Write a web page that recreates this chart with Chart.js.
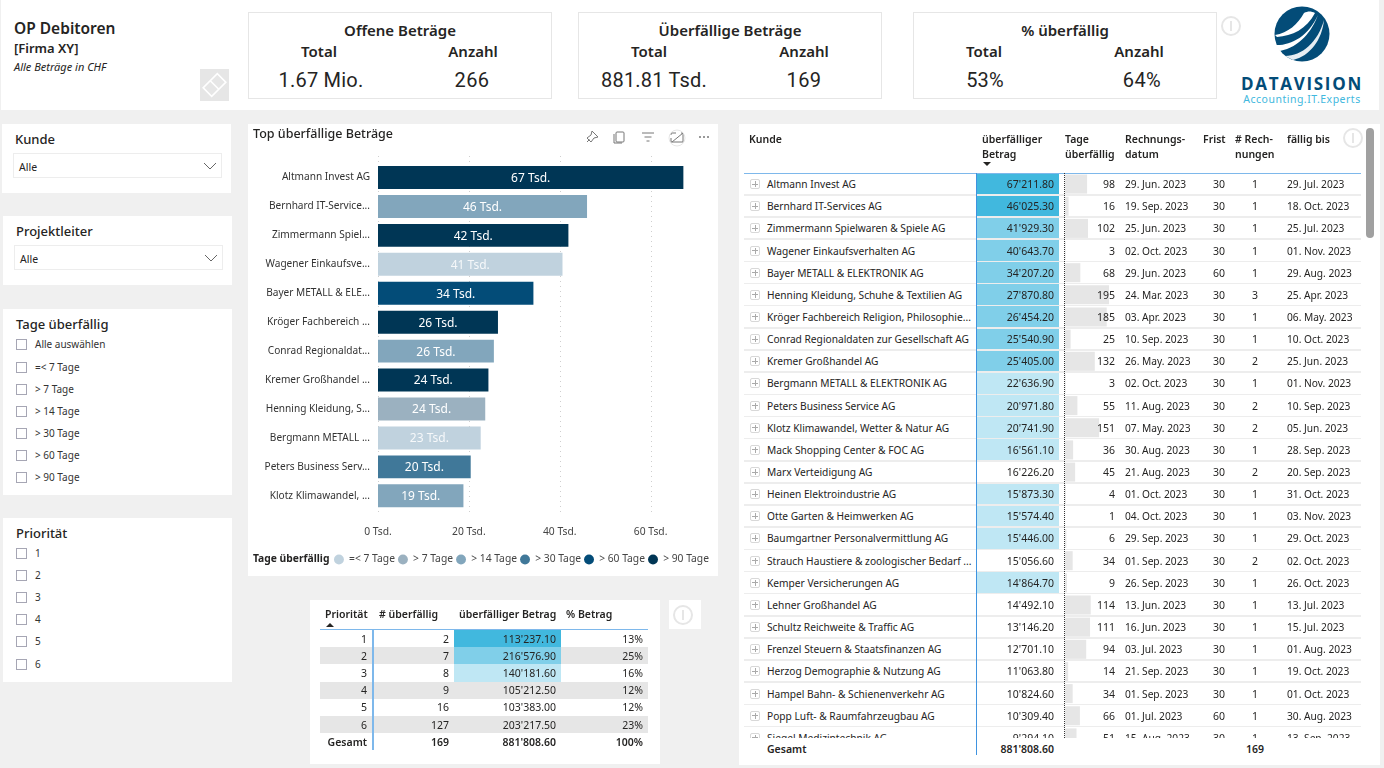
<!DOCTYPE html>
<html lang="de">
<head>
<meta charset="utf-8">
<title>OP Debitoren</title>
<script src="https://cdn.jsdelivr.net/npm/chart.js@4"></script>
<style>
  html, body { margin: 0; padding: 0; background: #f0f0f0; }
  #page { position: relative; width: 1384px; height: 768px; overflow: hidden; font-family: "Noto Sans", "Open Sans", sans-serif; color: #252423; }
  .box { position: absolute; background: #fff; box-sizing: border-box; }
  .t { position: absolute; white-space: nowrap; line-height: 1; z-index: 3; }
  canvas, svg { display: block; }
</style>
</head>
<body>
<div id="page"></div>
<script>
// top bar chart
const barKunden = ["Altmann Invest AG", "Bernhard IT-Service...", "Zimmermann Spiel...", "Wagener Einkaufsve...", "Bayer METALL & ELE...", "Kröger Fachbereich ...", "Conrad Regionaldat...", "Kremer Großhandel ...", "Henning Kleidung, S...", "Bergmann METALL ...", "Peters Business Serv...", "Klotz Klimawandel, ..."];
const barTsd = [67.2, 46.0, 41.9, 40.6, 34.2, 26.4, 25.5, 24.3, 23.6, 22.6, 20.4, 18.8];
const barGruppe = [5, 2, 5, 0, 4, 5, 2, 5, 1, 0, 3, 2];
const gruppen = ["=< 7 Tage", "> 7 Tage", "> 14 Tage", "> 30 Tage", "> 60 Tage", "> 90 Tage"];
const gruppenFarben = ["#C0D2DE", "#9BB1C0", "#82A6BC", "#407899", "#034C78", "#003655"];
const xTicks = [0, 20, 40, 60];

// priority table
const prioritaet = [1, 2, 3, 4, 5, 6];
const prioAnzahl = [2, 7, 8, 9, 16, 127];
const prioBetrag = ["113'237.10", "216'576.90", "140'181.60", "105'212.50", "103'383.00", "203'217.50"];
const prioProzent = ["13%", "25%", "16%", "12%", "12%", "23%"];
const prioFarbe = ["#41B8DE", "#80CFE9", "#BFE7F4", null, null, null];

// customer table
const kunden = ["Altmann Invest AG", "Bernhard IT-Services AG", "Zimmermann Spielwaren & Spiele AG", "Wagener Einkaufsverhalten AG", "Bayer METALL & ELEKTRONIK AG", "Henning Kleidung, Schuhe & Textilien AG", "Kröger Fachbereich Religion, Philosophie...", "Conrad Regionaldaten zur Gesellschaft AG", "Kremer Großhandel AG", "Bergmann METALL & ELEKTRONIK AG", "Peters Business Service AG", "Klotz Klimawandel, Wetter & Natur AG", "Mack Shopping Center & FOC AG", "Marx Verteidigung AG", "Heinen Elektroindustrie AG", "Otte Garten & Heimwerken AG", "Baumgartner Personalvermittlung AG", "Strauch Haustiere & zoologischer Bedarf ...", "Kemper Versicherungen AG", "Lehner Großhandel AG", "Schultz Reichweite & Traffic AG", "Frenzel Steuern & Staatsfinanzen AG", "Herzog Demographie & Nutzung AG", "Hampel Bahn- & Schienenverkehr AG", "Popp Luft- & Raumfahrzeugbau AG", "Siegel Medizintechnik AG"];
const betrag = ["67'211.80", "46'025.30", "41'929.30", "40'643.70", "34'207.20", "27'870.80", "26'454.20", "25'540.90", "25'405.00", "22'636.90", "20'971.80", "20'741.90", "16'561.10", "16'226.20", "15'873.30", "15'574.40", "15'446.00", "15'056.60", "14'864.70", "14'492.10", "13'146.20", "12'701.10", "11'063.80", "10'824.60", "10'309.40", "9'294.10"];
const tageUeberfaellig = [98, 16, 102, 3, 68, 195, 185, 25, 132, 3, 55, 151, 36, 45, 4, 1, 6, 34, 9, 114, 111, 94, 14, 34, 66, 51];
const rechnungsdatum = ["29. Jun. 2023", "19. Sep. 2023", "25. Jun. 2023", "02. Oct. 2023", "29. Jun. 2023", "24. Mar. 2023", "03. Apr. 2023", "10. Sep. 2023", "26. May. 2023", "02. Oct. 2023", "11. Aug. 2023", "07. May. 2023", "30. Aug. 2023", "21. Aug. 2023", "01. Oct. 2023", "04. Oct. 2023", "29. Sep. 2023", "01. Sep. 2023", "26. Sep. 2023", "13. Jun. 2023", "16. Jun. 2023", "03. Jul. 2023", "21. Sep. 2023", "01. Sep. 2023", "01. Jul. 2023", "15. Aug. 2023"];
const frist = [30, 30, 30, 30, 60, 30, 30, 30, 30, 30, 30, 30, 30, 30, 30, 30, 30, 30, 30, 30, 30, 30, 30, 30, 60, 30];
const anzahlRechnungen = [1, 1, 1, 1, 1, 3, 1, 1, 2, 1, 2, 2, 1, 2, 1, 1, 1, 2, 1, 1, 1, 1, 1, 1, 1, 1];
const faelligBis = ["29. Jul. 2023", "18. Oct. 2023", "25. Jul. 2023", "01. Nov. 2023", "29. Aug. 2023", "25. Apr. 2023", "06. May. 2023", "10. Oct. 2023", "25. Jun. 2023", "01. Nov. 2023", "10. Sep. 2023", "05. Jun. 2023", "28. Sep. 2023", "20. Sep. 2023", "31. Oct. 2023", "03. Nov. 2023", "29. Oct. 2023", "02. Oct. 2023", "26. Oct. 2023", "13. Jul. 2023", "15. Jul. 2023", "01. Aug. 2023", "19. Oct. 2023", "01. Oct. 2023", "30. Aug. 2023", "13. Sep. 2023"];
const betragStufe = [0, 0, 1, 1, 1, 1, 1, 1, 1, 2, 2, 2, 2, 3, 2, 2, 2, 3, 2, 3, 3, 3, 3, 3, 3, 3];
const stufenFarben = ["#41B8DE", "#80CFE9", "#BFE7F4", "#FFFFFF"];

const page = document.getElementById("page");

function box(x, y, w, h, css) {
  const el = document.createElement("div");
  el.className = "box";
  el.style.cssText = `left:${x}px;top:${y}px;width:${w}px;height:${h}px;` + (css || "");
  page.appendChild(el);
  return el;
}

// x,y is the vertical centre of the text; a = l, c or r
function txt(s, x, y, size, weight, a, css) {
  const el = document.createElement("div");
  el.className = "t";
  const tx = a === "r" ? "-100%" : a === "c" ? "-50%" : "0";
  el.style.cssText = `left:${x}px;top:${y}px;font-size:${size}px;font-weight:${weight || 400};transform:translate(${tx},-50%);` + (css || "");
  el.textContent = s;
  page.appendChild(el);
  return el;
}

function svg(x, y, w, h, inner, z) {
  const holder = document.createElement("div");
  holder.style.cssText = `position:absolute;left:${x}px;top:${y}px;width:${w}px;height:${h}px;z-index:${z || 3};`;
  holder.innerHTML = `<svg width="${w}" height="${h}" viewBox="0 0 ${w} ${h}" xmlns="http://www.w3.org/2000/svg">${inner}</svg>`;
  page.appendChild(holder);
}

function infoIcon(cx, cy) {
  svg(cx - 11, cy - 11, 22, 22, `<circle cx="11" cy="11" r="9" fill="#fff" stroke="#E6E6E6" stroke-width="2"/><rect x="10" y="6" width="2" height="10" fill="#E6E6E6"/>`);
}

// header band
box(1, 0, 1378, 110);
txt("OP Debitoren", 14, 29, 15.5, 600);
txt("[Firma XY]", 14, 48, 13, 600);
txt("Alle Beträge in CHF", 14, 66, 11, 400, "l", "font-style:italic;");
box(200, 69, 29, 32, "background:#E6E6E6;");
svg(200, 69, 29, 32, `<g transform="translate(14.5 16) rotate(45)" fill="none" stroke="#fff" stroke-width="1.6"><rect x="-6" y="-10" width="12" height="20"/><line x1="-6" y1="0" x2="6" y2="0"/></g>`);

const kpis = [
  { x: 248, title: "Offene Beträge", tx: 319, ax: 473, vx: 321, val: "1.67 Mio.", vax: 472, vala: "266" },
  { x: 578, title: "Überfällige Beträge", tx: 649, ax: 804, vx: 654, val: "881.81 Tsd.", vax: 804, vala: "169" },
  { x: 913, title: "% überfällig", tx: 984, ax: 1139, vx: 985, val: "53%", vax: 1142, vala: "64%" }
];
kpis.forEach(k => {
  box(k.x, 12, 304, 87, "border:1px solid #E6E6E6;");
  txt(k.title, k.x + 152, 30, 15, 600, "c");
  txt("Total", k.tx, 51, 15, 600, "c");
  txt("Anzahl", k.ax, 51, 15, 600, "c");
  txt(k.val, k.vx, 80, 20, 400, "c", "font-family:Roboto;letter-spacing:0.2px;");
  txt(k.vala, k.vax, 80, 20, 400, "c", "font-family:Roboto;letter-spacing:0.4px;");
});
infoIcon(1231, 26);

// logo
svg(1274, 6, 56, 56, `<circle cx="28" cy="28" r="27.5" fill="#034C78"/>
  <path d="M1 39 C16 40 34 31 44 9 C38 25 26 41 6 45 Z" fill="#fff"/>
  <path d="M3 31 C18 30 33 23 41 7 C37 5 34 5 30 7 C24 18 14 27 1 29 Z" fill="#fff"/>
  <path d="M11 50 C28 50 44 36 50 14 C48 34 36 50 19 54 Z" fill="#fff" opacity=".9"/>`);
txt("DATAVISION", 1302, 83, 17, 700, "c", "color:#034C78;letter-spacing:1.7px;font-family:'Open Sans';");
txt("Accounting.IT.Experts", 1302, 99, 10.5, 400, "c", "color:#41B8DE;letter-spacing:.5px;");

// slicers
function dropdown(x, y, title) {
  box(x, y, 229, 69);
  txt(title, x + 13, y + 14.5, 13, 500);
  box(x + 11, y + 29, 209, 25, "border:1.5px solid #EDEDED;");
  txt("Alle", x + 17, y + 43, 10.5);
  svg(x + 201, y + 38, 14, 9, `<path d="M1 1 L7 7 L13 1" fill="none" stroke="#666" stroke-width="1"/>`);
}
dropdown(2, 124, "Kunde");
dropdown(3, 216, "Projektleiter");

function checklist(y, h, title, items, ys) {
  box(3, y, 229, h);
  txt(title, 16, y + 14.5, 13, 500);
  items.forEach((s, i) => {
    box(16, ys[i] - 5.5, 11, 11, "border:1px solid #A6A6B4;");
    txt(s, 35, ys[i], 10, 400, "l", "color:#333;");
  });
}
checklist(309, 186, "Tage überfällig", ["Alle auswählen"].concat(gruppen), [344, 367, 389, 411, 433, 455, 477]);
checklist(518, 164, "Priorität", prioritaet.map(String), [553, 575, 597, 619, 641, 664]);

// bar chart panel
box(248, 124, 470, 452);
txt("Top überfällige Beträge", 253, 134, 12.5, 500);
const ic = "#777";
svg(583, 129, 132, 18, `<g fill="none" stroke="${ic}" stroke-width="1">
  <path d="M9 2 L15 8 L11 9 L8 13 L4 9 L8 6 Z M4 13 L6.5 10.5"/>
  <rect x="33" y="3" width="8" height="10" rx="1"/><path d="M31 5 V14 H39"/>
  <path d="M59 4 H71 M61.5 8 H68.5 M63.5 12 H66.5"/>
  <path d="M88 6 V4 H93 M98 4 H100 V13 H88 V9 M89 13 L100 4"/><circle cx="94" cy="9" r="8" stroke="#E6E6E6"/>
  </g><g fill="${ic}"><circle cx="117" cy="8" r="1"/><circle cx="121" cy="8" r="1"/><circle cx="125" cy="8" r="1"/></g>`);

const chartHolder = document.createElement("div");
chartHolder.style.cssText = "position:absolute;left:248px;top:124px;width:470px;height:452px;z-index:2;";
chartHolder.innerHTML = '<canvas id="barChart" width="470" height="452"></canvas>';
page.appendChild(chartHolder);
txt("Tage überfällig", 253, 558, 10.3, 700);

// dotted gridlines run a little past the plot area, so they are drawn here
const dottedGrid = {
  id: "dottedGrid",
  beforeDatasetsDraw(chart) {
    const { ctx, chartArea, scales } = chart;
    ctx.save();
    ctx.strokeStyle = "#CFCFCF";
    ctx.setLineDash([1, 4]);
    xTicks.forEach(v => {
      const px = Math.round(scales.x.getPixelForValue(v)) + 0.5;
      ctx.beginPath();
      ctx.moveTo(px, chartArea.top - 7);
      ctx.lineTo(px, chartArea.bottom + 3);
      ctx.stroke();
    });
    ctx.restore();
  }
};

const barLabels = {
  id: "barLabels",
  afterDatasetsDraw(chart) {
    const { ctx } = chart;
    ctx.save();
    ctx.font = "12px 'Noto Sans'";
    ctx.fillStyle = "#fff";
    ctx.textAlign = "center";
    ctx.textBaseline = "middle";
    chart.data.datasets.forEach((ds, d) => {
      chart.getDatasetMeta(d).data.forEach((bar, i) => {
        if (ds.data[i] === null) return;
        ctx.globalAlpha = d === 0 ? 0.85 : 1;
        ctx.fillText(Math.round(ds.data[i]) + " Tsd.", (bar.x + bar.base) / 2, bar.y + 1);
      });
    });
    ctx.restore();
  }
};

new Chart(document.getElementById("barChart"), {
  type: "bar",
  data: {
    labels: barKunden,
    datasets: gruppen.map((g, d) => ({
      label: g,
      data: barTsd.map((v, i) => (barGruppe[i] === d ? v : null)),
      backgroundColor: gruppenFarben[d],
      borderWidth: 0,
      stack: "a",
      categoryPercentage: 1,
      barPercentage: 23 / 29
    }))
  },
  options: {
    indexAxis: "y",
    responsive: false,
    animation: false,
    layout: { padding: { top: 39, right: 6, bottom: 1.4, left: 0 } },
    plugins: {
      title: { display: false },
      tooltip: { enabled: false },
      legend: {
        position: "bottom",
        align: "end",
        labels: {
          usePointStyle: true,
          pointStyle: "circle",
          boxWidth: 10,
          boxHeight: 7,
          padding: 3,
          color: "#444",
          font: { family: "'Noto Sans'", size: 10.3 }
        }
      }
    },
    scales: {
      x: {
        min: 0,
        max: 73.5,
        grid: { display: false },
        border: { display: false },
        afterBuildTicks: s => { s.ticks = xTicks.map(value => ({ value })); },
        afterFit: s => { s.height = 41; },
        ticks: {
          padding: 8,
          color: "#444",
          maxRotation: 0,
          font: { family: "'Noto Sans'", size: 10.3 },
          callback: v => v + " Tsd."
        }
      },
      y: {
        stacked: true,
        grid: { display: false },
        border: { display: false },
        afterFit: s => { s.width = 130; },
        ticks: {
          padding: 0,
          autoSkip: false,
          color: "#333",
          font: { family: "'Noto Sans'", size: 10.1 }
        }
      }
    }
  },
  plugins: [dottedGrid, barLabels]
});

// priority table
box(310, 600, 350, 164);
const prioY = 630, prioH = 17.2;
txt("Priorität", 325, 614, 10.5, 600);
txt("# überfällig", 379, 614, 10.5, 600);
txt("überfälliger Betrag", 459, 614, 10.5, 600);
txt("% Betrag", 566, 614, 10.5, 600);
svg(325, 622, 10, 6, `<path d="M1 5 L5 1 L9 5 Z" fill="#252423"/>`);
prioritaet.forEach((p, i) => {
  const y = prioY + i * prioH, c = y + prioH / 2;
  if (i % 2 === 1) box(320, y, 328, prioH, "background:#E6E6E6;");
  if (prioFarbe[i]) box(454, y, 107, prioH, `background:${prioFarbe[i]};`);
  txt(String(p), 367, c, 10.5, 400, "r");
  txt(String(prioAnzahl[i]), 449, c, 10.5, 400, "r");
  txt(prioBetrag[i], 556, c, 10.5, 400, "r");
  txt(prioProzent[i], 643, c, 10.5, 400, "r");
});
box(320, 629, 328, 1, "background:#7EB8EB;");
box(372, 629, 2, 121, "background:#7EB8EB;");
const prioTotalY = prioY + 6 * prioH + 8.6;
txt("Gesamt", 367, prioTotalY, 10.5, 600, "r");
txt("169", 449, prioTotalY, 10.5, 600, "r");
txt("881'808.60", 556, prioTotalY, 10.5, 600, "r");
txt("100%", 643, prioTotalY, 10.5, 600, "r");
box(669, 600, 32, 29);
infoIcon(683, 615);

// customer table
box(739, 124, 641, 641);
const headers = [["Kunde", 749, 139], ["überfälliger", 982, 139], ["Betrag", 982, 154], ["Tage", 1065, 139], ["überfällig", 1065, 154], ["Rechnungs-", 1125, 139], ["datum", 1125, 154], ["Frist", 1203, 139], ["# Rech-", 1235, 139], ["nungen", 1235, 154], ["fällig bis", 1287, 139]];
headers.forEach(h => txt(h[0], h[1], h[2], 10.5, 600));
svg(982, 161, 10, 6, `<path d="M1 1 L5 5 L9 1 Z" fill="#252423"/>`);
infoIcon(1353, 138);
box(1366, 128, 8, 110, "background:#A0A0A0;border-radius:4px;");

const rowH = 22.15, rowTop = 173, rowClip = 738;
kunden.forEach((k, i) => {
  const top = rowTop + i * rowH, c = top + rowH / 2;
  box(977, top, 82, rowH, `background:${stufenFarben[betragStufe[i]]};`);
  box(744, top + rowH - 1, 617, 1.6, "background:#EDEDED;z-index:1;");
  box(750, c - 5, 10, 10, "border:1px solid #D8D8D8;border-radius:2px;background:linear-gradient(#AAA,#AAA) center/6px 1px no-repeat,linear-gradient(#AAA,#AAA) center/1px 6px no-repeat;");
  txt(k, 767, c, 10.2);
  txt(betrag[i], 1054, c, 10.5, 400, "r");
  txt(String(tageUeberfaellig[i]), 1115, c, 10.5, 400, "r");
  txt(rechnungsdatum[i], 1125, c, 10.2);
  txt(String(frist[i]), 1225, c, 10.5, 400, "r");
  txt(String(anzahlRechnungen[i]), 1255, c, 10.5, 400, "c");
  txt(faelligBis[i], 1287, c, 10.2);
});

// data bars for "Tage überfällig"
const dataBarHolder = document.createElement("div");
dataBarHolder.style.cssText = `position:absolute;left:1065px;top:${rowTop}px;width:60px;height:${rowClip - rowTop}px;overflow:hidden;z-index:2;`;
dataBarHolder.innerHTML = `<canvas id="tageBars" width="60" height="${Math.round(rowH * kunden.length)}"></canvas>`;
page.appendChild(dataBarHolder);
new Chart(document.getElementById("tageBars"), {
  type: "bar",
  data: {
    labels: kunden,
    datasets: [{
      data: tageUeberfaellig,
      backgroundColor: "#E6E6E6",
      borderWidth: 0,
      categoryPercentage: 1,
      barPercentage: 0.86
    }]
  },
  options: {
    indexAxis: "y",
    responsive: false,
    animation: false,
    plugins: { legend: { display: false }, tooltip: { enabled: false } },
    scales: {
      x: { display: false, min: 0, max: 266 },
      y: { display: false }
    }
  }
});

// cover for the row cut off by the totals line
box(740, rowClip, 640, 27, "z-index:3;");
txt("Gesamt", 767, 749, 10.5, 600, "l", "z-index:4;");
txt("881'808.60", 1054, 749, 10.5, 600, "r", "z-index:4;");
txt("169", 1255, 749, 10.5, 600, "c", "z-index:4;");
box(744, 173, 617, 1, "background:#7EB8EB;z-index:4;");
box(976, 173, 1, 582, "background:#3F93E0;z-index:4;");
box(1064, 173, 1, 565, "background:repeating-linear-gradient(#333 0 1px,transparent 1px 2px);z-index:4;");
</script>
</body>
</html>
